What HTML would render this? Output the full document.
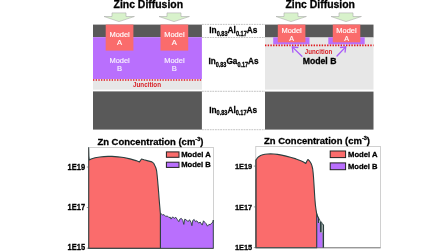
<!DOCTYPE html>
<html lang="en">
<head>
<meta charset="utf-8">
<title>Zinc Diffusion</title>
<style>
html,body{margin:0;padding:0;background:#fff;}
body{width:448px;height:252px;overflow:hidden;}
svg{display:block;}
text{font-family:"Liberation Sans",sans-serif;}
.b{font-weight:bold;fill:#000;stroke:#000;stroke-width:0.28px;}
</style>
</head>
<body>
<svg width="448" height="252" viewBox="0 0 448 252">
<rect x="0" y="0" width="448" height="252" fill="#ffffff"/>

<!-- faint guide lines -->
<g stroke="#b4b4b4" stroke-width="0.8" stroke-dasharray="1.8 0.8" fill="none">
<line x1="202" y1="24.4" x2="265" y2="24.4"/>
<line x1="202" y1="37.5" x2="265" y2="37.5"/>
<line x1="202" y1="91.3" x2="265" y2="91.3"/>
<line x1="202" y1="129.7" x2="265" y2="129.7"/>
</g>

<!-- LEFT STRUCTURE -->
<g id="left-structure">
<rect x="93" y="24.6" width="108.9" height="12.6" fill="#595959"/>
<rect x="93" y="37.2" width="108.9" height="42.1" fill="#b96ffd"/>
<rect x="93" y="79.3" width="108.9" height="10.4" fill="#e7e7e7"/>
<rect x="93" y="91.4" width="108.9" height="38.2" fill="#595959"/>
<rect x="105.7" y="24.6" width="27.7" height="26" fill="#fa6c6c"/>
<rect x="160.5" y="24.6" width="27.7" height="26" fill="#fa6c6c"/>
<line x1="93" y1="80" x2="201.9" y2="80" stroke="#e0161b" stroke-width="1.7" stroke-dasharray="1.35 1.32"/>
<g fill="#ffffff" font-size="7.6" text-anchor="middle" fill-opacity="0.96" stroke="#fff" stroke-width="0.18" stroke-opacity="0.9">
<text x="119.6" y="37" textLength="20.3" lengthAdjust="spacingAndGlyphs">Model</text>
<text x="119.6" y="45.2">A</text>
<text x="174.4" y="37" textLength="20.3" lengthAdjust="spacingAndGlyphs">Model</text>
<text x="174.4" y="45.2">A</text>
</g>
<g fill="#ffffff" font-size="7.6" text-anchor="middle" fill-opacity="0.88" stroke="#fff" stroke-width="0.18" stroke-opacity="0.8">
<text x="119.6" y="63.1" textLength="20.3" lengthAdjust="spacingAndGlyphs">Model</text>
<text x="119.6" y="71">B</text>
<text x="174.4" y="63.1" textLength="20.3" lengthAdjust="spacingAndGlyphs">Model</text>
<text x="174.4" y="71">B</text>
</g>
<text x="147" y="87" font-size="6.9" font-weight="bold" fill="#d81e24" text-anchor="middle" textLength="28" lengthAdjust="spacingAndGlyphs">Juncition</text>
</g>

<!-- arrows -->
<g fill="#d8f2cb" stroke="#ababab" stroke-width="0.6" stroke-linejoin="round">
<path id="arr" d="M112 12.9 H126 V16.5 H134.4 L119 21.6 L104 16.5 H112 Z"/>
<path d="M167 12.9 H181 V16.5 H189.4 L174 21.6 L159 16.5 H167 Z"/>
<path d="M284 12.9 H298 V16.5 H306.4 L291 21.6 L276 16.5 H284 Z"/>
<path d="M339 12.9 H353 V16.5 H361.4 L346 21.6 L331 16.5 H339 Z"/>
</g>

<!-- titles -->
<text class="b" x="148.3" y="8.3" font-size="10.5" text-anchor="middle" textLength="69.5" lengthAdjust="spacingAndGlyphs">Zinc Diffusion</text>
<text class="b" x="320.2" y="8.3" font-size="10.5" text-anchor="middle" textLength="69.5" lengthAdjust="spacingAndGlyphs">Zinc Diffusion</text>

<!-- center labels -->
<g class="b" font-size="9.7" text-anchor="middle">
<text x="233.4" y="33.4" textLength="48.2" lengthAdjust="spacingAndGlyphs">In<tspan font-size="6.5" dy="2.6">0.83</tspan><tspan dy="-2.6">Al</tspan><tspan font-size="6.5" dy="2.6">0.17</tspan><tspan dy="-2.6">As</tspan></text>
<text x="233.5" y="64.4" textLength="50.2" lengthAdjust="spacingAndGlyphs">In<tspan font-size="6.5" dy="2.6">0.83</tspan><tspan dy="-2.6">Ga</tspan><tspan font-size="6.5" dy="2.6">0.17</tspan><tspan dy="-2.6">As</tspan></text>
<text x="233.2" y="112.6" textLength="48" lengthAdjust="spacingAndGlyphs">In<tspan font-size="6.5" dy="2.6">0.83</tspan><tspan dy="-2.6">Al</tspan><tspan font-size="6.5" dy="2.6">0.17</tspan><tspan dy="-2.6">As</tspan></text>
</g>

<!-- RIGHT STRUCTURE -->
<g id="right-structure">
<rect x="265" y="24.6" width="108.5" height="12.9" fill="#595959"/>
<rect x="265" y="37.5" width="108.5" height="52.1" fill="#e7e7e7"/>
<rect x="265" y="91.6" width="108.5" height="38" fill="#595959"/>
<rect x="273.2" y="37.3" width="36.3" height="7" fill="#b96ffd"/>
<rect x="328.3" y="37.3" width="36.4" height="7" fill="#b96ffd"/>
<rect x="277.8" y="24.6" width="27.6" height="17.7" fill="#fa6c6c"/>
<rect x="332.8" y="24.6" width="27.5" height="17.7" fill="#fa6c6c"/>
<line x1="265" y1="45.4" x2="373.5" y2="45.4" stroke="#e0161b" stroke-width="1.8" stroke-dasharray="1.4 1.3"/>
<g fill="#ffffff" font-size="7.1" text-anchor="middle" fill-opacity="0.96" stroke="#fff" stroke-width="0.18" stroke-opacity="0.9">
<text x="291.6" y="32.8" textLength="20.3" lengthAdjust="spacingAndGlyphs">Model</text>
<text x="291.6" y="40.9">A</text>
<text x="346.5" y="32.8" textLength="20.3" lengthAdjust="spacingAndGlyphs">Model</text>
<text x="346.5" y="40.9">A</text>
</g>
<text x="318.6" y="53.6" font-size="6.9" font-weight="bold" fill="#d81e24" text-anchor="middle" textLength="27.5" lengthAdjust="spacingAndGlyphs">Juncition</text>
<text class="b" x="319.6" y="63.7" font-size="8.6" text-anchor="middle" textLength="33.7" lengthAdjust="spacingAndGlyphs">Model B</text>
<g stroke="#a95cf8" stroke-width="1.3" fill="none" stroke-linecap="round" stroke-linejoin="round">
<path d="M301.9 56.3 L292.3 46.9"/>
<path d="M292.9 52.2 L292.3 46.9 L297.8 47.5"/>
<path d="M337 56 L345.7 46.9"/>
<path d="M345.1 52 L345.7 46.9 L340.5 47.5"/>
</g>
</g>

<!-- LEFT CHART -->
<g id="left-chart">
<rect x="88.5" y="147.6" width="124.9" height="100.8" fill="#ffffff" stroke="#bdbdbd" stroke-width="0.7"/>
<path d="M160.4 213.2 L161.1 213.7 L162.7 215.0 L164.0 214.6 L165.6 216.4 L167.4 216.0 L169.0 217.7 L170.1 217.0 L171.0 219.1 L172.7 216.8 L174.1 218.4 L175.8 217.3 L177.4 219.7 L178.8 221.7 L179.8 219.1 L181.4 218.4 L182.8 220.4 L183.8 224.4 L184.8 219.1 L186.5 220.0 L188.1 221.7 L189.5 219.7 L191.1 222.4 L191.9 225.7 L192.8 220.4 L194.2 219.5 L195.5 221.7 L196.8 220.8 L198.6 223.1 L200.2 222.1 L202.2 225.1 L203.5 220.8 L204.9 222.4 L206.2 223.7 L207.5 226.2 L208.9 224.4 L210.2 224.8 L211.6 223.1 L212.9 222.1 L213.3 220 V248.4 H160.4 Z" fill="#b96ffd" stroke="#2a3f3f" stroke-width="0.9" stroke-linejoin="round"/>
<path d="M88.7 248.4 V147.8 L88.9 156 L89.3 159.9 L91.1 159.1 L95.1 157.8 L99.9 157 L104 156.6 L108 156.4 L112 156.4 L118 156.9 L123.7 157.5 L130 158.9 L136 160.6 L139.5 161.9 L141.5 159 L144 159.8 L148 160.9 L151.9 161.9 L153.8 163.4 L155 165.9 L155.9 168 L156.6 170.6 L157.1 175 L157.5 179 L158.1 186 L158.6 192 L159.2 200 L159.9 208 L160.4 214.3 V248.4 Z" fill="#fa6c6c" stroke="#2a3f3f" stroke-width="1.1" stroke-linejoin="round"/>
<line x1="88.5" y1="147.8" x2="88.5" y2="248.4" stroke="#555" stroke-width="0.7"/>
<line x1="88.5" y1="248.4" x2="213.4" y2="248.4" stroke="#555" stroke-width="0.7"/>
<g stroke="#555" stroke-width="0.6">
<line x1="86.8" y1="167" x2="88.5" y2="167"/>
<line x1="86.8" y1="207.5" x2="88.5" y2="207.5"/>
<line x1="86.8" y1="248.2" x2="88.5" y2="248.2"/>
</g>
<g class="b" font-size="8.5" text-anchor="end">
<text x="85.1" y="169.5" textLength="17.5" lengthAdjust="spacingAndGlyphs">1E19</text>
<text x="85.1" y="209.8" textLength="17.5" lengthAdjust="spacingAndGlyphs">1E17</text>
<text x="85.1" y="249.9" textLength="17.5" lengthAdjust="spacingAndGlyphs">1E15</text>
</g>
<rect x="166.4" y="151.9" width="12.6" height="5.4" fill="#fa6c6c" stroke="#222" stroke-width="1"/>
<rect x="166.4" y="162.2" width="12.6" height="5.2" fill="#b96ffd" stroke="#222" stroke-width="1"/>
<g class="b" font-size="7.6">
<text x="181.2" y="156.8" textLength="29.6" lengthAdjust="spacingAndGlyphs">Model A</text>
<text x="181.2" y="167.2" textLength="29.6" lengthAdjust="spacingAndGlyphs">Model B</text>
</g>
<text class="b" x="97.4" y="144.8" font-size="9.6" textLength="106" lengthAdjust="spacingAndGlyphs">Zn Concentration (cm<tspan font-size="5.6" dy="-3.6">-3</tspan><tspan dy="3.6">)</tspan></text>
</g>

<!-- RIGHT CHART -->
<g id="right-chart">
<rect x="255.8" y="146.6" width="124.7" height="101.2" fill="#ffffff" stroke="#bdbdbd" stroke-width="0.7"/>
<path d="M316.7 214 L318 218 L318.4 222.6 H319.9 V232.4 H322.6 V247.8 H316.7 Z" fill="#b96ffd"/>
<g stroke="#2a3f3f" fill="none" stroke-linecap="butt">
<path d="M316.7 213.8 L317.6 216.4 L318.5 218 V223" stroke-width="1.2"/>
<path d="M320.8 221.6 V232.4" stroke-width="1.9"/>
<path d="M323.3 224.4 V247.8" stroke-width="1.5"/>
<path d="M319.2 218.5 L320.4 222" stroke-width="0.8"/>
<path d="M321.9 222.5 L322.9 225" stroke-width="0.8"/>
</g>
<path d="M256 247.8 V159.9 L257.2 158.2 L258.7 156.7 L260.6 155.6 L262.7 154.8 L265 154.3 L267.5 154 L270.5 153.9 L273.8 154 L277.5 154.4 L281.7 155.1 L286 156.1 L291.3 157.5 L296 158.9 L300.8 160.7 L303.5 162 L305.8 163.5 L306.8 161.2 L307.9 159.5 L309.2 160.6 L310.2 162 L311.1 163.5 L311.9 165.6 L312.7 169 L313.1 172.5 L313.5 177 L313.9 183 L314.3 189.7 L314.8 198 L315.4 205 L316 209.5 L316.7 213.8 V247.8 Z" fill="#fa6c6c" stroke="#2a3f3f" stroke-width="1.1" stroke-linejoin="round"/>
<line x1="255.8" y1="159.9" x2="255.8" y2="247.8" stroke="#444" stroke-width="0.7"/>
<line x1="255.5" y1="247.8" x2="380.5" y2="247.8" stroke="#555" stroke-width="0.7"/>
<g stroke="#555" stroke-width="0.6">
<line x1="253.8" y1="166.1" x2="255.6" y2="166.1"/>
<line x1="253.8" y1="206.9" x2="255.6" y2="206.9"/>
<line x1="253.8" y1="247.6" x2="255.6" y2="247.6"/>
</g>
<g class="b" font-size="8.1" text-anchor="end">
<text x="252.1" y="168.6" textLength="17.2" lengthAdjust="spacingAndGlyphs">1E19</text>
<text x="252.1" y="209.5" textLength="17.2" lengthAdjust="spacingAndGlyphs">1E17</text>
<text x="252.1" y="250" textLength="17.2" lengthAdjust="spacingAndGlyphs">1E15</text>
</g>
<rect x="330.2" y="151" width="15.4" height="6.6" fill="#fa6c6c" stroke="#222" stroke-width="1"/>
<rect x="330.2" y="162.9" width="15.4" height="6.8" fill="#b96ffd" stroke="#222" stroke-width="1"/>
<g class="b" font-size="7.6">
<text x="348" y="157.4" textLength="29.5" lengthAdjust="spacingAndGlyphs">Model A</text>
<text x="348" y="168.8" textLength="29.5" lengthAdjust="spacingAndGlyphs">Model B</text>
</g>
<text class="b" x="264" y="144" font-size="9.6" textLength="106" lengthAdjust="spacingAndGlyphs">Zn Concentration (cm<tspan font-size="5.6" dy="-3.6">-3</tspan><tspan dy="3.6">)</tspan></text>
</g>
</svg>
</body>
</html>
